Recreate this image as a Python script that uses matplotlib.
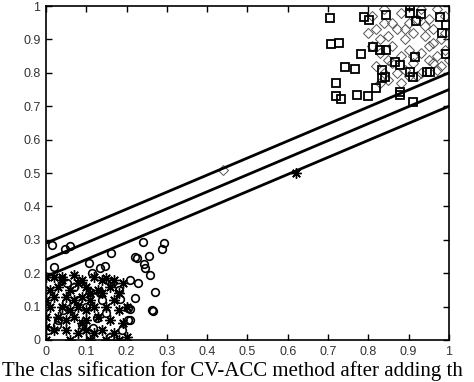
import numpy as np
import matplotlib
matplotlib.use('Agg')
import matplotlib.pyplot as plt

# class 1 (circles), lower left
circ_x = [0.241, 0.294, 0.289, 0.221, 0.227, 0.256, 0.243, 0.246, 0.258, 0.208, 0.229, 0.270, 0.221,
          0.208, 0.266, 0.262, 0.208, 0.016, 0.047, 0.060, 0.161, 0.107, 0.134, 0.146, 0.020, 0.113,
          0.051, 0.109, 0.184, 0.204, 0.080, 0.043, 0.150, 0.126, 0.204, 0.027, 0.117, 0.159, 0.188,
          0.089, 0.070, 0.100, 0.180, 0.050, 0.140, 0.165, 0.030, 0.005, 0.135]
circ_y = [0.294, 0.291, 0.272, 0.249, 0.246, 0.252, 0.229, 0.215, 0.195, 0.180, 0.172, 0.144, 0.125,
          0.093, 0.088, 0.090, 0.060, 0.284, 0.274, 0.282, 0.260, 0.230, 0.216, 0.222, 0.218, 0.200,
          0.170, 0.145, 0.122, 0.095, 0.120, 0.090, 0.080, 0.065, 0.060, 0.045, 0.035, 0.010, 0.030,
          0.045, 0.160, 0.100, 0.150, 0.115, 0.120, 0.170, 0.060, 0.030, 0.140]

# class 2 (stars), lower left
star_x = [0.00, 0.02, 0.04, 0.07, 0.09, 0.12, 0.15, 0.17, 0.19,
          0.01, 0.03, 0.06, 0.08, 0.10, 0.13, 0.16, 0.18,
          0.00, 0.02, 0.05, 0.07, 0.09, 0.11, 0.14, 0.17, 0.20,
          0.01, 0.04, 0.06, 0.08, 0.10, 0.12, 0.15, 0.18,
          0.00, 0.03, 0.05, 0.07, 0.10, 0.13, 0.16, 0.19,
          0.00, 0.02, 0.05, 0.08, 0.10, 0.12, 0.14, 0.17, 0.20,
          0.00, 0.06, 0.11, 0.15, 0.18,
          0.04, 0.11, 0.14, 0.09, 0.62]
star_y = [0.19, 0.19, 0.19, 0.195, 0.18, 0.19, 0.185, 0.18, 0.17,
          0.15, 0.16, 0.15, 0.17, 0.16, 0.15, 0.16, 0.14,
          0.12, 0.13, 0.13, 0.12, 0.13, 0.12, 0.14, 0.12, 0.10,
          0.10, 0.10, 0.09, 0.10, 0.09, 0.10, 0.10, 0.09,
          0.07, 0.07, 0.06, 0.07, 0.06, 0.07, 0.06, 0.05,
          0.04, 0.03, 0.03, 0.02, 0.03, 0.02, 0.03, 0.02, 0.01,
          0.00, 0.00, 0.00, 0.00, 0.00,
          0.18, 0.14, 0.18, 0.05, 0.50]

# class 3 (squares), upper right
sq_x = [0.705, 0.789, 0.802, 0.707, 0.727, 0.782, 0.742, 0.767, 0.721, 0.721, 0.732, 0.771, 0.800,
        0.820, 0.812, 0.829, 0.833, 0.833, 0.903, 0.903, 0.932, 0.918, 0.845, 0.978, 0.994, 0.982,
        0.994, 0.845, 0.866, 0.878, 0.917, 0.903, 0.912, 0.945, 0.953, 0.841, 0.878, 0.878, 0.912]
sq_y = [0.963, 0.966, 0.958, 0.888, 0.890, 0.858, 0.818, 0.811, 0.769, 0.730, 0.722, 0.733, 0.730,
        0.754, 0.878, 0.868, 0.808, 0.784, 1.000, 0.978, 0.976, 0.956, 0.973, 0.968, 0.943, 0.918,
        0.858, 0.868, 0.833, 0.823, 0.848, 0.803, 0.788, 0.803, 0.803, 0.788, 0.743, 0.733, 0.713]

# class 4 (diamonds), upper right
dia_x = [0.81, 0.84, 0.86, 0.88, 0.90, 0.93, 0.95, 0.97, 0.99,
         0.82, 0.85, 0.87, 0.89, 0.91, 0.94, 0.96, 0.98,
         0.81, 0.83, 0.86, 0.88, 0.90, 0.93, 0.95, 0.97, 0.99,
         0.82, 0.84, 0.86, 0.89, 0.91, 0.93, 0.96, 0.98, 1.00,
         0.83, 0.85, 0.88, 0.92, 0.84, 0.92, 0.96, 0.87,
         0.80, 0.89, 0.94, 0.99, 0.85, 0.91, 0.97, 0.83, 0.90, 0.95,
         0.44]
dia_y = [0.97, 0.99, 0.95, 0.98, 0.95, 0.99, 0.96, 0.99, 0.97,
         0.93, 0.91, 0.93, 0.90, 0.92, 0.91, 0.93, 0.90,
         0.88, 0.86, 0.88, 0.85, 0.87, 0.86, 0.88, 0.85, 0.87,
         0.82, 0.80, 0.83, 0.81, 0.83, 0.80, 0.83, 0.82, 0.84,
         0.77, 0.78, 0.77, 0.79, 0.95, 0.96, 0.89, 0.80,
         0.92, 0.93, 0.94, 0.92, 0.84, 0.85, 0.81, 0.90, 0.79, 0.84,
         0.51]

# separating lines (value at x=0 and at x=1)
line_x = [0, 1]
line_top = [0.29, 0.80]
line_mid = [0.24, 0.75]
line_bot = [0.19, 0.70]

fig = plt.figure(figsize=(4.74, 3.82), dpi=100)
ax = fig.add_axes([0.097, 0.110, 0.850, 0.874])

ax.plot(circ_x, circ_y, 'o', mfc='none', mec='black', ms=5.5, mew=1.2)
ax.plot(star_x, star_y, ls='none', marker=(8, 2, 0), color='black', ms=7.5, mew=1.0)
ax.plot(dia_x, dia_y, 'D', mfc='none', mec='#555555', ms=5.5, mew=0.7)
ax.plot(sq_x, sq_y, 's', mfc='none', mec='black', ms=5.5, mew=1.3)

for ly in (line_top, line_mid, line_bot):
    ax.plot(line_x, ly, '-', color='black', lw=2)

ax.set_xlim(0, 1)
ax.set_ylim(0, 1)
ticks = np.arange(0, 1.01, 0.1)
labs = ['0'] + ['%.1f' % t for t in ticks[1:-1]] + ['1']
ax.set_xticks(ticks)
ax.set_xticklabels(labs)
ax.set_yticks(ticks)
ax.set_yticklabels(labs)
ax.tick_params(direction='in', top=True, right=True, length=4, width=1,
               labelsize=9, labelcolor='#333333', pad=4)
for lab in ax.get_xticklabels() + ax.get_yticklabels():
    lab.set_family('Liberation Sans')
for s in ax.spines.values():
    s.set_linewidth(1.2)

fig.text(0.004, 0.016, 'The clas sification for CV-ACC method after adding th',
         family='Liberation Serif', fontsize=15.0, color='black')

fig.savefig('out.png', dpi=100)
